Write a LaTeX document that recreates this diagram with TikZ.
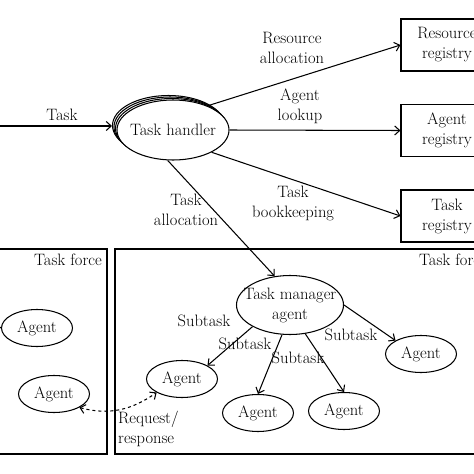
\documentclass[tikz,border=0pt]{standalone}
\usetikzlibrary{shapes.geometric,arrows.meta}
\begin{document}
\begin{tikzpicture}[x=1pt,y=-1pt,
  font=\fontsize{16.5}{20}\selectfont,
  ln/.style={line width=1.05pt},
  arr/.style={ln,-{Straight Barb[length=5pt,width=9pt]}},
  darr/.style={ln,dashed,{Straight Barb[length=5pt,width=9pt]}-{Straight Barb[length=5pt,width=9pt]}},
  agentnode/.style={ellipse,draw,ln,fill=white,inner sep=0pt,minimum width=71pt,minimum height=37pt},
  bigell/.style={ellipse,draw,ln,fill=white,inner sep=0pt},
  regbox/.style={draw,ln,align=center,minimum width=92pt,minimum height=52pt,inner sep=0pt},
  forcebox/.style={draw,line width=1.3pt},
  lbl/.style={align=center,inner sep=0pt}
]
\useasboundingbox (0,0) rectangle (474,474);
% Task handler (stacked)
\node[bigell,minimum width=112pt,minimum height=60pt] (th3) at (168.5,125.5) {};
\node[bigell,minimum width=112pt,minimum height=60pt] (th2) at (170,127) {};
\node[bigell,minimum width=112pt,minimum height=60pt] (th1) at (171.5,128.5) {};
\node[bigell,minimum width=112pt,minimum height=60pt] (th) at (173,130) {};
\node[lbl] (tht) at (th.center) {Task handler};
\coordinate (tin) at (0,126);
\draw[arr] (tin) -- (th3.west |- tin);
\node[lbl] (ltask) at (62,115) {Task};
% registries
\node[regbox] (rr) at (447,45) {Resource\\registry};
\node[regbox] (ar) at (447,130.5) {Agent\\registry};
\node[regbox] (tr) at (447,216) {Task\\registry};
\draw[arr] (th.35) -- (rr.west);
\draw[arr] (th.east) -- (ar.west);
\draw[arr] (th.-30) -- (tr.west);
\node[lbl] (lra) at (292,48) {Resource\\allocation};
\node[lbl] (lal) at (300,106) {Agent\\lookup};
\node[lbl] (ltb) at (293,203) {Task\\bookkeeping};
% task force boxes
\draw[forcebox] (-5,249) rectangle (107,454);
\draw[forcebox] (115,249) rectangle (485,454);
\node[lbl,anchor=north east] (tf1) at (102,254) {Task force};
\node[lbl,anchor=north west] (tf2) at (419,254) {Task force};
% agents
\node[agentnode] (a1) at (37,328) {Agent};
\node[agentnode] (a2) at (54,394) {Agent};
\coordinate (a1in) at (0,327);
\draw[ln] (a1in) -- (a1.west);
\node[bigell,minimum width=107pt,minimum height=59pt] (tma) at (290,305) {};
\node[lbl] (tmat) at (tma.center) {Task manager\\agent};
\node[agentnode] (s1) at (182,379) {Agent};
\node[agentnode] (s2) at (258,413) {Agent};
\node[agentnode] (s3) at (344,411) {Agent};
\node[agentnode] (s4) at (421,354) {Agent};
\draw[arr] (th.-100) -- (tma.118);
\node[lbl] (lta) at (186,210) {Task\\allocation};
\draw[arr] (tma.-150) -- (s1.north east);
\draw[arr] (tma.-105) -- (s2.north);
\draw[arr] (tma.-62) -- (s3.north);
\draw[arr] (tma.east) -- (s4.north west);
\node[lbl] (ls1) at (204,321) {Subtask};
\node[lbl] (ls2) at (245,344) {Subtask};
\node[lbl] (ls3) at (298,358) {Subtask};
\node[lbl] (ls4) at (351,335) {Subtask};
\draw[darr] (a2.-28) to[out=-15,in=-145] (s1.-152);
\node[lbl,align=left,anchor=north west] (lrr) at (118,411) {Request/\\response};
\end{tikzpicture}
\end{document}
